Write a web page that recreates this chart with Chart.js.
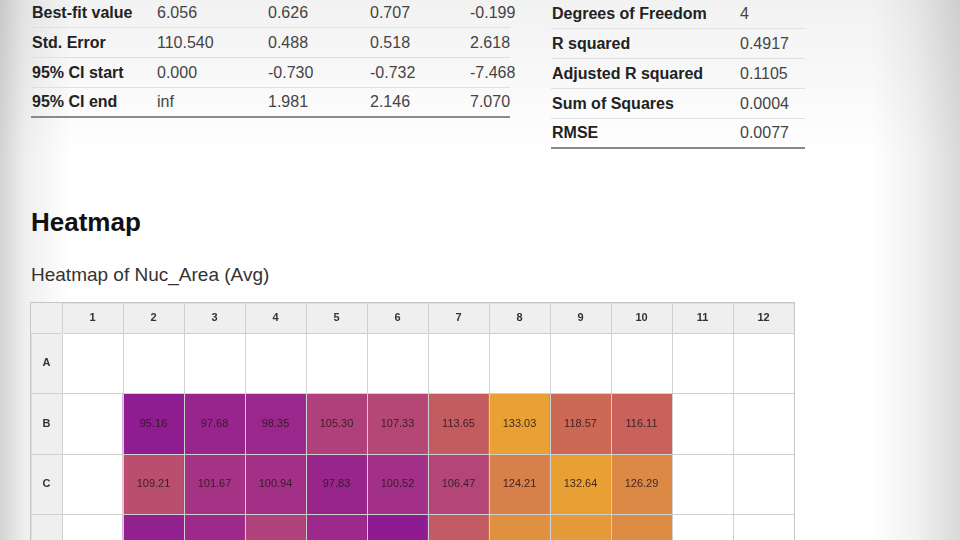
<!DOCTYPE html>
<html lang="en">
<head>
<meta charset="utf-8">
<title>Heatmap of Nuc_Area (Avg)</title>
<script src="https://cdn.jsdelivr.net/npm/chart.js@4.4.1/dist/chart.umd.min.js"></script>
<style>
  html, body { margin: 0; padding: 0; }
  body {
    width: 960px; height: 540px; overflow: hidden; position: relative;
    font-family: "Liberation Sans", Arial, sans-serif;
    background:
      linear-gradient(to bottom, rgba(0,0,0,0.05) 0px, rgba(0,0,0,0) 160px),
      linear-gradient(to right, #d3d3d3 0px, #efefef 25px, #fff 70px, #fff 870px, #f2f2f2 915px, #d9d9d9 960px);
  }
  table.stats { position: absolute; border-collapse: collapse; font-size: 16px; table-layout: fixed; }
  table.stats td { height: 29px; padding: 0; border-bottom: 1px solid #e0e0e0; color: #444; white-space: nowrap; }
  table.stats td.lbl { font-weight: bold; color: #222; padding-left: 1px; }
  table.stats tr:last-child td { height: 28px; border-bottom: 2px solid #8a8a8a; }
  #parametres { left: 31px; top: -2px; width: 479px; }
  #ajustement { left: 551px; top: -1px; width: 254px; }
  h2 { position: absolute; left: 31px; top: 207px; margin: 0; font-size: 26px; line-height: 30px; font-weight: bold; color: #111; }
  .sous-titre { position: absolute; left: 31px; top: 264px; font-size: 19px; line-height: 22px; color: #333; }
  #boite { position: absolute; left: 30px; top: 302px; width: 763px; height: 272px; border: 1px solid #c6c6c6; }
  #heatmap { background: #efefef; }
</style>
</head>
<body>

<table class="stats" id="parametres">
  <colgroup><col style="width:126px"><col style="width:111px"><col style="width:102px"><col style="width:100px"><col style="width:40px"></colgroup>
  <tbody></tbody>
</table>

<table class="stats" id="ajustement">
  <colgroup><col style="width:189px"><col style="width:65px"></colgroup>
  <tbody></tbody>
</table>

<h2>Heatmap</h2>
<div class="sous-titre">Heatmap of Nuc_Area (Avg)</div>

<div id="boite"><canvas id="heatmap"></canvas></div>

<script>
// ==================== DONNÉES ====================

// Tableau des paramètres (le haut de la page est coupé, on ne voit que ces lignes)
const parametresNoms = ['Best-fit value', 'Std. Error', '95% CI start', '95% CI end'];
const parametresValeurs = [
  ['6.056', '0.626', '0.707', '-0.199'],
  ['110.540', '0.488', '0.518', '2.618'],
  ['0.000', '-0.730', '-0.732', '-7.468'],
  ['inf', '1.981', '2.146', '7.070']
];

// Qualité de l'ajustement
const ajustementNoms = ['Degrees of Freedom', 'R squared', 'Adjusted R squared', 'Sum of Squares', 'RMSE'];
const ajustementValeurs = ['4', '0.4917', '0.1105', '0.0004', '0.0077'];

// Plaque : colonnes 1-12, lignes A-D (la ligne D est coupée en bas, valeurs estimées d'après la couleur)
const colonnes = ['1', '2', '3', '4', '5', '6', '7', '8', '9', '10', '11', '12'];
const lignes = ['A', 'B', 'C', 'D'];
const valeursA = [null, null, null, null, null, null, null, null, null, null, null, null];
const valeursB = [null, 95.16, 97.68, 98.35, 105.30, 107.33, 113.65, 133.03, 118.57, 116.11, null, null];
const valeursC = [null, 109.21, 101.67, 100.94, 97.83, 100.52, 106.47, 124.21, 132.64, 126.29, null, null];
const valeursD = [null, 96.4, 99.2, 105.8, 99.0, 94.3, 113.2, 128.4, 131.2, 127.0, null, null];
const valeursParLigne = [valeursA, valeursB, valeursC, valeursD];

// ==================== TABLEAUX ====================

const corpsParametres = document.querySelector('#parametres tbody');
parametresNoms.forEach((nom, i) => {
  const ligne = document.createElement('tr');
  ligne.innerHTML = `<td class="lbl">${nom}</td>` + parametresValeurs[i].map(v => `<td>${v}</td>`).join('');
  corpsParametres.appendChild(ligne);
});

const corpsAjustement = document.querySelector('#ajustement tbody');
ajustementNoms.forEach((nom, i) => {
  const ligne = document.createElement('tr');
  ligne.innerHTML = `<td class="lbl">${nom}</td><td>${ajustementValeurs[i]}</td>`;
  corpsAjustement.appendChild(ligne);
});

// ==================== HEATMAP ====================

const HAUT_ENTETE = 30;   // hauteur de la ligne d'en-tête (1..12)
const LARG_ETIQ = 31;     // largeur de la colonne des lettres
const GRILLE = '#d0d0d0';

// Dégradé violet -> rouge -> orange, comme sur la capture
const PALETTE = [
  [95, [142, 27, 145]],
  [100, [160, 45, 137]],
  [106, [178, 67, 122]],
  [113, [194, 90, 99]],
  [119, [205, 106, 84]],
  [126, [218, 136, 70]],
  [133, [233, 161, 52]]
];

function couleur(v) {
  if (v === null || v === undefined) return 'rgba(0,0,0,0)';
  if (v <= PALETTE[0][0]) return `rgb(${PALETTE[0][1].join(',')})`;
  for (let i = 1; i < PALETTE.length; i++) {
    const [v1, c1] = PALETTE[i];
    const [v0, c0] = PALETTE[i - 1];
    if (v <= v1) {
      const t = (v - v0) / (v1 - v0);
      const c = c0.map((x, k) => Math.round(x + (c1[k] - x) * t));
      return `rgb(${c.join(',')})`;
    }
  }
  return `rgb(${PALETTE[PALETTE.length - 1][1].join(',')})`;
}

// Une série par ligne de la plaque : chaque cellule est une barre flottante [i, i+1]
const series = valeursParLigne.map((valeurs, i) => ({
  label: lignes[i],
  valeurs: valeurs,
  data: valeurs.map(v => (v === null ? null : [i, i + 1])),
  backgroundColor: ctx => couleur(ctx.dataset.valeurs[ctx.dataIndex]),
  xAxisID: 'x',
  yAxisID: 'y'
}));

// Fond blanc pour les cellules (l'en-tête et la colonne des lettres restent grises)
const fondCellules = {
  id: 'fondCellules',
  beforeDraw(chart) {
    const { ctx, chartArea } = chart;
    ctx.save();
    ctx.fillStyle = '#ffffff';
    ctx.fillRect(chartArea.left, chartArea.top, chartArea.right - chartArea.left, chartArea.bottom - chartArea.top);
    ctx.restore();
  }
};

// Valeur écrite au centre de chaque cellule
const etiquettesCellules = {
  id: 'etiquettesCellules',
  afterDatasetsDraw(chart) {
    const ctx = chart.ctx;
    ctx.save();
    ctx.font = '11px "Liberation Sans", Arial, sans-serif';
    ctx.fillStyle = 'rgba(45,25,30,0.9)';
    ctx.textAlign = 'center';
    ctx.textBaseline = 'middle';
    chart.data.datasets.forEach((serie, i) => {
      chart.getDatasetMeta(i).data.forEach((barre, j) => {
        const v = serie.valeurs[j];
        if (v === null) return;
        const { x, y, base } = barre.getProps(['x', 'y', 'base'], true);
        ctx.fillText(v.toFixed(2), x, (y + base) / 2);
      });
    });
    ctx.restore();
  }
};

const policeEntete = { family: '"Liberation Sans", Arial, sans-serif', size: 11, weight: 'bold' };

new Chart(document.getElementById('heatmap'), {
  type: 'bar',
  data: { labels: colonnes, datasets: series },
  options: {
    responsive: true,
    maintainAspectRatio: false,
    animation: false,
    events: [],
    layout: { padding: 0 },
    datasets: { bar: { grouped: false, barPercentage: 1, categoryPercentage: 1, borderWidth: 0 } },
    plugins: { legend: { display: false }, tooltip: { enabled: false } },
    scales: {
      x: {
        position: 'top',
        offset: true,
        grid: { color: GRILLE, offset: true, tickLength: HAUT_ENTETE, z: 1 },
        border: { color: GRILLE },
        ticks: {
          color: '#333',
          font: policeEntete,
          maxRotation: 0,
          autoSkip: false,
          padding: HAUT_ENTETE / 2 - HAUT_ENTETE - 6.6
        },
        afterFit: axe => { axe.height = HAUT_ENTETE; }
      },
      y: { type: 'linear', display: false, min: 0, max: lignes.length, reverse: true },
      lignes: {
        type: 'category',
        labels: lignes,
        position: 'left',
        offset: true,
        grid: { color: GRILLE, offset: true, tickLength: LARG_ETIQ, z: 1 },
        border: { color: GRILLE },
        ticks: {
          color: '#333',
          font: policeEntete,
          autoSkip: false,
          padding: LARG_ETIQ / 2 - LARG_ETIQ - 4
        },
        afterFit: axe => { axe.width = LARG_ETIQ; }
      }
    }
  },
  plugins: [fondCellules, etiquettesCellules]
});
</script>
</body>
</html>
